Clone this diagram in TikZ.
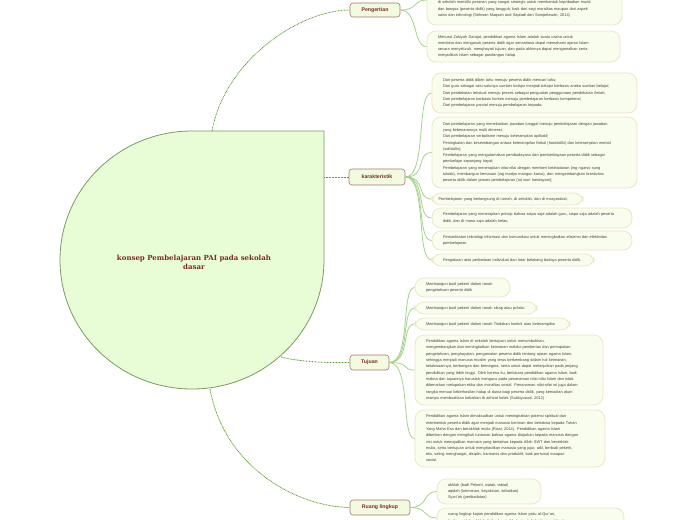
\documentclass[tikz,border=0pt]{standalone}
\usepackage{fontspec}
\setmainfont{Liberation Sans}
\newfontfamily\titlefont{DejaVu Serif}
\definecolor{txt}{HTML}{4A4040}
\definecolor{brn}{HTML}{7A2A2A}
\definecolor{tree}{HTML}{A6D28A}
\definecolor{dot}{HTML}{5E9A2E}
\definecolor{leaf}{HTML}{F8FDEE}
\definecolor{leafb}{HTML}{EEE6C2}
\definecolor{brfill}{HTML}{F2FADF}
\definecolor{brb}{HTML}{A57A6A}
\definecolor{core}{HTML}{E8FCD6}
\definecolor{coreb}{HTML}{7E9A62}
\tikzset{
  leafbox/.style={draw=leafb,fill=leaf,rounded corners=9pt,line width=0.8pt,inner sep=0pt,
    text=txt,align=left,font=\fontsize{3.9}{6.3}\selectfont},
  branch/.style={draw=brb,fill=brfill,rounded corners=3pt,line width=0.6pt,inner sep=0pt,
    text=brn,font=\bfseries\fontsize{5.2}{6}\selectfont},
  treeline/.style={draw=tree,line width=0.8pt},
  dotline/.style={draw=dot,line width=0.8pt,dash pattern=on 0.8pt off 0.7pt},
}
\newcommand{\leaf}[6]{\node[leafbox,minimum width=#4pt,minimum height=#5pt,text width=#4pt-22pt] (#1) at (#2,#3) {#6};}
\begin{document}
\begin{tikzpicture}[x=1pt,y=-1pt]
\useasboundingbox (0,0) rectangle (697,520);
% core
\draw[draw=coreb,fill=core,line width=0.8pt] (192,131) -- (324,131) -- (324,260)
  arc[start angle=0,end angle=-270,x radius=132,y radius=-129] -- cycle;
\node[text=brn,font=\titlefont\bfseries\fontsize{7}{9}\selectfont,align=center] (core) at (194,262)
  {konsep Pembelajaran PAI pada sekolah\\dasar};
\coordinate (cT) at (212,131);
\coordinate (cR) at (324,177);
\coordinate (cBR) at (281,357);
\coordinate (cB) at (210,389);
% branches
\node[branch,minimum width=50pt,minimum height=14pt] (peng) at (375,10) {Pengertian};
\node[branch,minimum width=56pt,minimum height=16pt] (kar) at (377,177) {karakteristik};
\node[branch,minimum width=39pt,minimum height=15pt] (tuj) at (369.5,362.5) {Tujuan};
\node[branch,minimum width=60pt,minimum height=15pt] (rl) at (380,507.5) {Ruang lingkup};
\draw[dotline] (cT) .. controls (225,60) and (300,10) .. (peng.west);
\draw[dotline] (cR) -- (kar.west);
\draw[dotline] (cBR) .. controls (300,362) and (330,363) .. (tuj.west);
\draw[dotline] (cB) .. controls (225,470) and (300,507) .. (rl.west);
% Pengertian
\leaf{p1}{524.5}{0}{195}{50}{\mbox{}\\[1pt]\mbox{}\\[1pt]Pendidikan agama Islam (PAI) sebagai salah satu mata pelajaran yang diajarkan\\di sekolah memiliki peranan yang sangat strategis untuk membentuk kepribadian murid\\dan bangsa (peserta didik) yang tangguh; baik dari segi moralitas maupun dari aspek\\sains dan teknologi (Sehwan Maqsah and Saptadi dan Sampelawan, 2014)}
\leaf{p2}{523.5}{46.5}{193}{31}{Menurut Zakiyah Darajat, pendidikan agama Islam adalah suatu usaha untuk\\membina dan mengasuh peserta didik agar senantiasa dapat memahami ajaran Islam\\secara menyeluruh, menghayati tujuan, dan pada akhirnya dapat mengamalkan serta\\menjadikan Islam sebagai pandangan hidup.}
% karakteristik
\leaf{k1}{534.5}{93}{205}{40}{Dari peserta didik diberi tahu menuju peserta didik mencari tahu;\\Dari guru sebagai satu-satunya sumber belajar menjadi belajar berbasis aneka sumber belajar;\\Dari pendekatan tekstual menuju proses sebagai penguatan penggunaan pendekatan ilmiah;\\Dari pembelajaran berbasis konten menuju pembelajaran berbasis kompetensi;\\Dari pembelajaran parsial menuju pembelajaran terpadu;}
\leaf{k2}{534.5}{152.5}{205}{71}{Dari pembelajaran yang menekankan jawaban tunggal menuju pembelajaran dengan jawaban\\yang kebenarannya multi dimensi;\\Dari pembelajaran verbalisme menuju keterampilan aplikatif;\\Peningkatan dan keseimbangan antara keterampilan fisikal (hardskills) dan keterampilan mental\\(softskills);\\Pembelajaran yang mengutamakan pembudayaan dan pemberdayaan peserta didik sebagai\\pembelajar sepanjang hayat;\\Pembelajaran yang menerapkan nilai-nilai dengan memberi keteladanan (ing ngarso sung\\tulodo), membangun kemauan (ing madyo mangun karso), dan mengembangkan kreativitas\\peserta didik dalam proses pembelajaran (tut wuri handayani);}
\node[leafbox,minimum width=151pt,minimum height=12pt,text width=138pt] (k3) at (507.5,199) {Pembelajaran yang berlangsung di rumah, di sekolah, dan di masyarakat;};
\leaf{k4}{532}{218}{200}{20}{Pembelajaran yang menerapkan prinsip bahwa siapa saja adalah guru, siapa saja adalah peserta\\didik, dan di mana saja adalah kelas;}
\leaf{k5}{532}{240.5}{200}{19}{Pemanfaatan teknologi informasi dan komunikasi untuk meningkatkan efisiensi dan efektivitas\\pembelajaran}
\leaf{k6}{513}{260}{162}{12}{Pengakuan atas perbedaan individual dan latar belakang budaya peserta didik.}
% Tujuan
\leaf{t1}{462.5}{287.5}{95}{19}{Membangun budi pekerti dalam ranah\\pengetahuan peserta didik}
\leaf{t2}{476}{308}{122}{12}{Membangun budi pekerti dalam ranah sikap atau prilaku}
\leaf{t3}{492.5}{324}{155}{12}{Membangun budi pekerti dalam ranah Tindakan konkrit atau keterampilan}
\leaf{t4}{509}{370}{188}{70}{Pendidikan agama Islam di sekolah bertujuan untuk menumbuhkan,\\mengembangkan dan meningkatkan keimanan melalui pemberian dan pemupukan\\pengetahuan, penghayatan, pengamalan peserta didik tentang ajaran agama Islam,\\sehingga menjadi manusia muslim yang terus berkembang dalam hal keimanan,\\ketakwaannya, berbangsa dan bernegara, serta untuk dapat melanjutkan pada jenjang\\pendidikan yang lebih tinggi. Oleh karena itu, berbicara pendidikan agama Islam, baik\\makna dan tujuannya haruslah mengacu pada penanaman nilai-nilai Islam dan tidak\\dibenarkan melupakan etika dan moralitas sosial. Penanaman nilai-nilai ini juga dalam\\rangka menuai keberhasilan hidup di dunia bagi peserta didik, yang kemudian akan\\mampu membuahkan kebaikan di akhirat kelak (Sulistyowati, 2012)}
\leaf{t5}{510}{438.5}{190}{57}{Pendidikan agama Islam dimaksudkan untuk meningkatkan potensi spiritual dan\\membentuk peserta didik agar menjadi manusia beriman dan bertakwa kepada Tuhan\\Yang Maha Esa dan berakhlak mulia (Rizal, 2014). Pendidikan agama Islam\\diberikan dengan mengikuti tuntunan bahwa agama diajarkan kepada manusia dengan\\visi untuk mewujudkan manusia yang bertakwa kepada Allah SWT dan berakhlak\\mulia, serta bertujuan untuk menghasilkan manusia yang jujur, adil, berbudi pekerti,\\etis, saling menghargai, disiplin, harmonis dan produktif, baik personal maupun\\sosial.}
% Ruang lingkup
\leaf{r1}{489}{491.5}{104}{25}{akhlak (budi Pekerti, watak, tabiat)\\aqidah (keimanan, keyakinan, kebaikan)\\Syari'ah (peribadatan)}
\leaf{r2}{530.5}{518}{187}{20}{ruang lingkup kajian pendidikan agama Islam yaitu al-Qur'an,\\hadis, aqidah, akhlak, fiqih, dan tarikh (sejarah kebudayaan Islam)}
% tree lines
\foreach \c in {p1,p2} \draw[treeline] (peng.east) .. controls +(18,0) and +(-14,0) .. (\c.west);
\foreach \c in {k1,k2,k3,k4,k5,k6} \draw[treeline] (kar.east) .. controls +(22,0) and +(-16,0) .. (\c.west);
\foreach \c in {t1,t2,t3,t4,t5} \draw[treeline] (tuj.east) .. controls +(22,0) and +(-14,0) .. (\c.west);
\foreach \c in {r1,r2} \draw[treeline] (rl.east) .. controls +(18,0) and +(-14,0) .. (\c.west);
\end{tikzpicture}
\end{document}
